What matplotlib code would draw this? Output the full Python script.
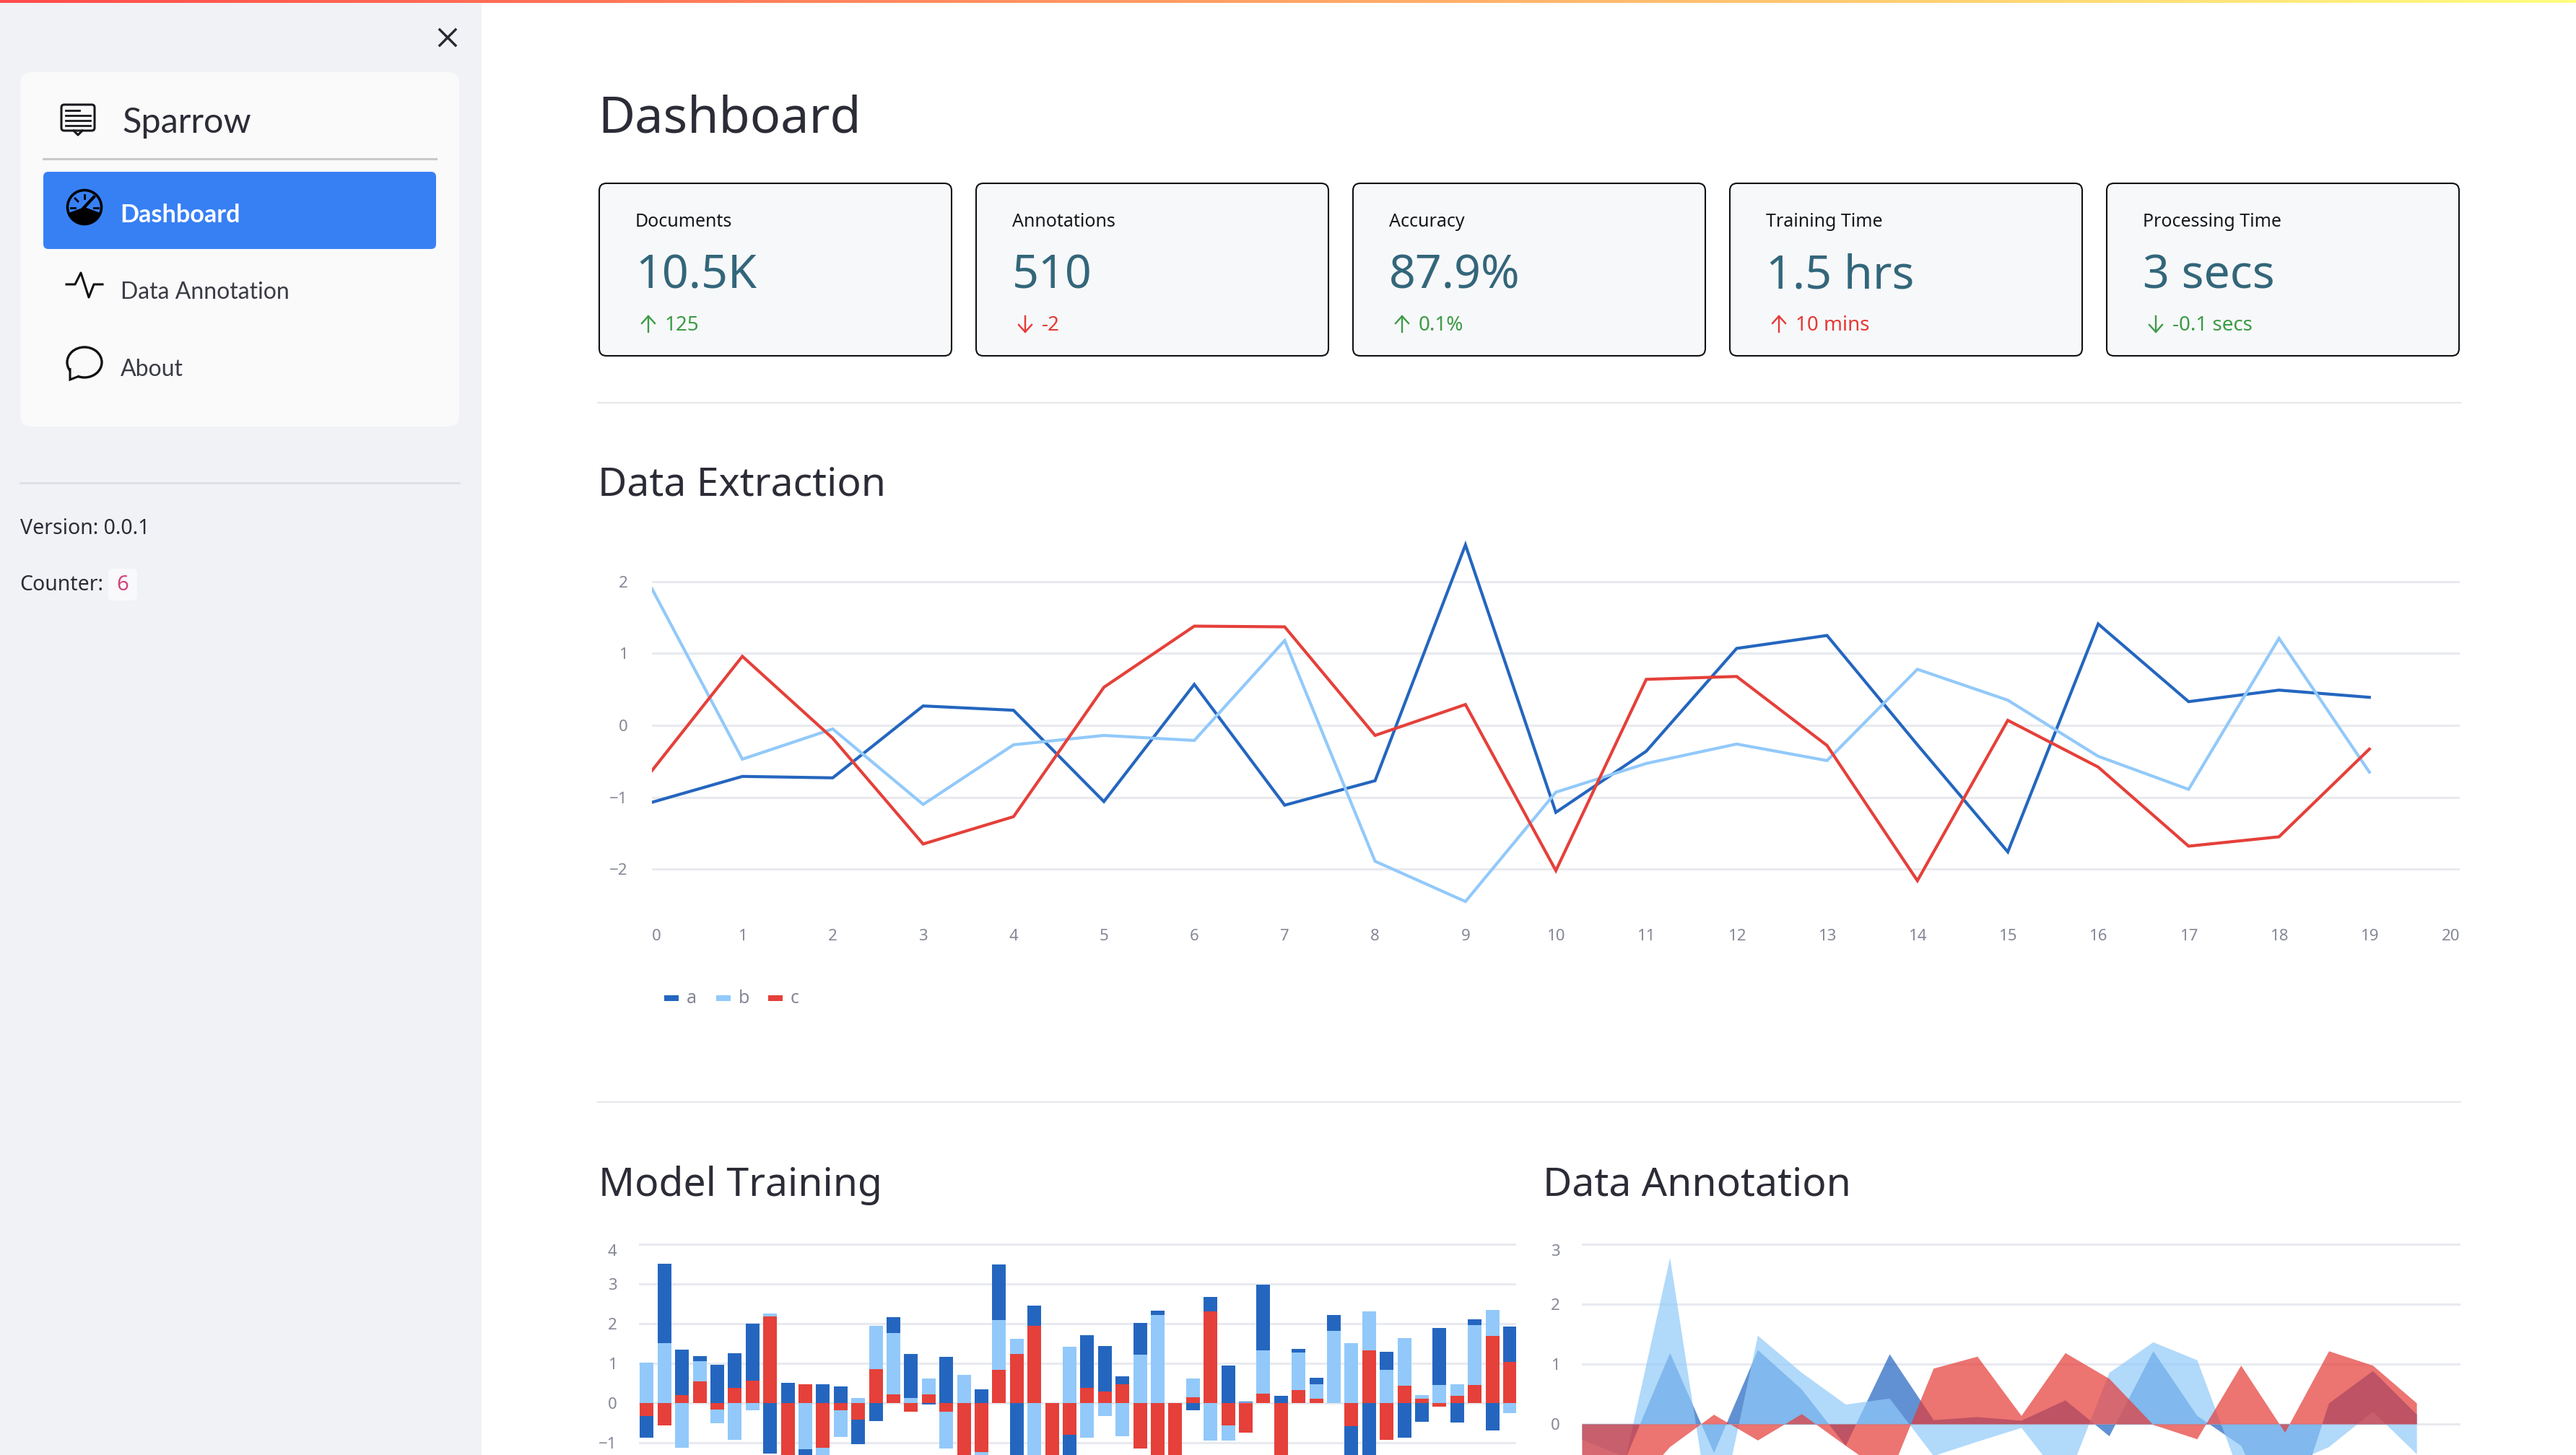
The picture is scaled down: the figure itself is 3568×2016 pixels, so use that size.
import matplotlib

matplotlib.use("Agg")

import matplotlib.pyplot as plt
import numpy as np
from matplotlib.patches import Circle, Ellipse, FancyBboxPatch, Polygon, Rectangle, Wedge

plt.rcParams["font.family"] = ["Noto Sans", "DejaVu Sans"]

W, H = 3568, 2016

BLUE = "#2466bf"
LIGHT = "#92c9fa"
RED = "#e5403a"
INK = "#2b2c36"
TICK = "#848795"
GRID = "#e8eaef"
UP = "#3d9b45"
DOWN = "#e53935"

# line chart
line_a = [-1.07, -0.71, -0.73, 0.27, 0.21, -1.06, 0.57, -1.11, -0.77, 2.51,
          -1.21, -0.36, 1.07, 1.25, -0.27, -1.76, 1.41, 0.33, 0.49, 0.39]
line_b = [1.90, -0.47, -0.05, -1.10, -0.27, -0.14, -0.21, 1.18, -1.89, -2.45,
          -0.93, -0.53, -0.26, -0.49, 0.78, 0.35, -0.43, -0.89, 1.21, -0.65]
line_c = [-0.63, 0.96, -0.18, -1.65, -1.27, 0.53, 1.38, 1.37, -0.14, 0.29,
          -2.02, 0.64, 0.68, -0.28, -2.16, 0.07, -0.58, -1.68, -1.55, -0.33]

# stacked bars, values under the crop of the page are estimates
bar_a = [-0.54, 2.00, 1.15, 0.12, 0.96, 0.87, 1.42, -1.28, 0.50, -0.50,
         0.47, 0.41, -0.62, -0.45, 0.39, 1.11, -0.04, 1.17, -0.30, 0.35,
         1.40, -1.60, 0.52, -0.40, -0.80, 1.32, 1.14, 0.20, 0.81, 0.12,
         -0.30, -0.19, 0.36, 0.95, 0.03, 1.65, 0.18, 0.10, 0.16, 0.41,
         -0.80, -1.40, 0.44, -0.88, -0.47, 1.43, -0.50, 0.14, -0.70, 0.89]
bar_b = [1.02, 1.50, -1.13, 0.52, -0.35, -0.93, -0.18, 0.07, -0.30, -1.17,
         -0.40, -0.67, 0.13, 1.10, 1.56, 0.12, 0.40, -0.94, 0.70, -0.30,
         1.25, 0.38, -1.50, -0.30, 1.42, -0.88, -0.32, -0.84, 1.21, 2.21,
         -0.30, 0.46, -0.95, -0.39, 0.01, 1.09, -0.30, 0.95, 0.38, 1.81,
         1.51, 0.99, 0.84, 1.20, 0.08, 0.45, 0.30, 1.51, 0.67, -0.25]
bar_c = [-0.33, -0.57, 0.19, 0.54, -0.16, 0.38, 0.57, 2.18, -1.60, 0.47,
         -1.13, -0.19, -0.41, 0.85, 0.21, -0.22, 0.22, -0.21, -1.60, -1.24,
         0.84, 1.23, 1.94, -1.50, -0.80, 0.38, 0.29, 0.48, -1.15, -1.50,
         -1.50, 0.15, 2.31, -0.56, -0.75, 0.24, -1.50, 0.32, 0.10, -0.01,
         -0.59, 1.32, -0.92, 0.44, 0.11, -0.10, 0.18, 0.45, 1.68, 1.04]

# area chart
area_a = [-0.26, -0.55, 1.19, -0.48, 1.24, 0.58, -0.36, 1.17, 0.07, 0.12,
          0.06, 0.40, -0.20, 1.22, 0.14, -0.36, -1.90, 0.35, 0.89, 0.16]
area_b = [-0.80, -0.53, 2.78, -1.94, 1.48, 0.86, 0.33, 0.43, -0.53, -0.29,
          -0.06, -1.00, 0.86, 1.37, 1.07, -0.90, -0.70, -0.38, 0.21, -0.50]
area_c = [-1.20, -1.20, -0.38, 0.16, -0.27, 0.17, -0.36, -0.87, 0.93, 1.13,
          0.14, 1.19, 0.76, -0.01, -0.25, 0.98, -0.14, 1.22, 0.98, 0.35]

# metric cards
card_labels = ["Documents", "Annotations", "Accuracy", "Training Time", "Processing Time"]
card_values = ["10.5K", "510", "87.9%", "1.5 hrs", "3 secs"]
card_deltas = ["125", "-2", "0.1%", "10 mins", "-0.1 secs"]
card_arrows = ["up", "down", "up", "up", "down"]
card_colors = [UP, DOWN, UP, DOWN, UP]

legend_names = ["a", "b", "c"]
legend_colors = [BLUE, LIGHT, RED]


def px_axes(fig, left, top, right, bottom):
    ax = fig.add_axes([left / W, 1 - bottom / H, (right - left) / W, (bottom - top) / H])
    ax.set_facecolor("none")
    for spine in ax.spines.values():
        spine.set_visible(False)
    ax.set_axisbelow(True)
    ax.grid(axis="y", color=GRID, lw=2.2)
    ax.tick_params(length=0, labelcolor=TICK, labelsize=16)
    return ax


def round_box(ax, x0, y0, x1, y1, radius, face, edge="none", lw=0, z=2):
    ax.add_patch(FancyBboxPatch((x0, y0), x1 - x0, y1 - y0,
                                boxstyle=f"round,pad=0,rounding_size={radius}",
                                fc=face, ec=edge, lw=lw, zorder=z))


def stack_bars(ax, x, series, colors, width):
    pos = np.zeros(len(x))
    neg = np.zeros(len(x))
    for values, color in zip(series, colors):
        values = np.array(values)
        bottom = np.where(values >= 0, pos, neg)
        ax.bar(x, values, width, bottom=bottom, color=color, lw=0)
        pos += np.clip(values, 0, None)
        neg += np.clip(values, None, 0)


def draw_arrow(ax, x, y, direction, color):
    sign = -1 if direction == "up" else 1
    ax.plot([x, x], [y - 11, y + 11], color=color, lw=1.7)
    tip = y + 11 * sign
    ax.plot([x - 9, x, x + 9], [tip - 10 * sign, tip, tip - 10 * sign], color=color, lw=1.7)


def draw_page(ax):
    ax.set_axis_off()
    gradient = np.linspace(0, 1, 256).reshape(1, -1, 1)
    start = np.array([255, 75, 75]) / 255
    stop = np.array([255, 253, 128]) / 255
    ax.imshow(start + gradient * (stop - start), extent=(0, W, 4, 0), aspect="auto", zorder=5)
    ax.set_xlim(0, W)
    ax.set_ylim(H, 0)

    ax.add_patch(Rectangle((0, 0), 667, H, fc="#f0f2f6", lw=0, zorder=1))
    ax.plot([609, 631], [41, 63], color="#26272f", lw=2.4, zorder=3)
    ax.plot([609, 631], [63, 41], color="#26272f", lw=2.4, zorder=3)

    round_box(ax, 28, 100, 636, 591, 16, "#fafafa")
    ax.plot([60, 604], [220, 220], color="#c9c9cc", lw=2.2, zorder=3)
    round_box(ax, 60, 238, 604, 345, 7, "#3780f4", z=3)

    # sparrow icon
    round_box(ax, 85, 145, 131, 181, 4, "none", "#17181c", 2.2, z=4)
    ax.plot([102, 108, 114], [181, 187, 181], color="#17181c", lw=2.2, zorder=4)
    for y, x1 in [(153, 110), (160, 125), (167, 125), (174, 125)]:
        ax.plot([91, x1], [y, y], color="#17181c", lw=2, zorder=4)
    ax.text(169, 170, "Sparrow", fontsize=35, family="Lato", color=INK, va="center", zorder=4)

    # dashboard icon
    ax.add_patch(Circle((117, 287), 23.5, fc="none", ec="black", lw=2.6, zorder=4))
    ax.add_patch(Wedge((117, 287), 24, 20, 160, fc="black", lw=0, zorder=4))
    ax.plot([115, 130], [289, 273], color="black", lw=3, zorder=4)
    for x0, y0, x1, y1 in [(117, 270, 117, 275), (104, 275, 108, 279), (98, 288, 104, 288), (130, 288, 136, 288)]:
        ax.plot([x0, x1], [y0, y1], color="black", lw=2, zorder=4)
    ax.text(166, 298, "Dashboard", fontsize=24.7, family="Lato", weight="bold", color="white", va="center", zorder=4)

    # pulse icon
    ax.plot([92, 104, 112, 123, 130, 142], [394, 394, 378, 412, 394, 394], color="#111111", lw=2.2, zorder=4)
    ax.text(167, 405, "Data Annotation", fontsize=23, family="Lato", color="#3a3b44", va="center", zorder=4)

    # about icon
    ax.add_patch(Ellipse((117, 502), 48, 42, fc="none", ec="#111111", lw=2.4, zorder=4))
    ax.add_patch(Polygon([[97, 510], [97, 526], [110, 521]], closed=False, fc="#fafafa", ec="#111111", lw=2.2, zorder=4))
    ax.text(167, 512, "About", fontsize=23, family="Lato", color="#3a3b44", va="center", zorder=4)

    ax.plot([28, 636], [669, 669], color="#dcdee3", lw=1.8, zorder=3)
    ax.text(28, 732, "Version: 0.0.1", fontsize=20.5, color=INK, va="center", zorder=4)
    ax.text(27, 811, "Counter:", fontsize=20.5, color=INK, va="center", zorder=4)
    round_box(ax, 150, 788, 190, 832, 6, "#f9f9fb", z=3)
    ax.text(170, 811, "6", fontsize=21, color="#d0447e", ha="center", va="center", zorder=4)

    ax.text(828, 166, "Dashboard", fontsize=50.5, color=INK, va="center")

    for i, label in enumerate(card_labels):
        left = 830 + 522 * i
        round_box(ax, left, 254, left + 488, 493, 10, "#f7f8fa", "#101114", 1.5)
        ax.text(left + 50, 308, label, fontsize=18, color="#17181c", va="center", zorder=4)
        ax.text(left + 50, 383, card_values[i], fontsize=46.5, color="#33667a", va="center", zorder=4)
        draw_arrow(ax, left + 68, 449, card_arrows[i], card_colors[i])
        ax.text(left + 91, 451, card_deltas[i], fontsize=20, color=card_colors[i], va="center", zorder=4)

    for y in (558, 1527):
        ax.plot([828, 3408], [y, y], color="#e6e8ec", lw=1.6, zorder=3)

    ax.text(828, 672, "Data Extraction", fontsize=39.8, color=INK, va="center")
    ax.text(829, 1642, "Model Training", fontsize=39.8, color=INK, va="center")
    ax.text(2137, 1642, "Data Annotation", fontsize=39.8, color=INK, va="center")

    for name, color, x0, xt in zip(legend_names, legend_colors, (920, 992, 1064), (951, 1023, 1095)):
        ax.add_patch(Rectangle((x0, 1379), 20, 8, fc=color, lw=0, zorder=4))
        ax.text(xt, 1383, name, fontsize=18, color=TICK, va="center", zorder=4)


fig = plt.figure(figsize=(W / 100, H / 100), dpi=100, facecolor="white")

page = fig.add_axes([0, 0, 1, 1])
draw_page(page)

# Data Extraction
ax_line = px_axes(fig, 903, 746, 3407, 1279)
x_line = np.arange(20)
for values, color in zip((line_a, line_b, line_c), legend_colors):
    ax_line.plot(x_line, values, color=color, lw=3.0, solid_joinstyle="miter")
ax_line.set_xlim(0, 20)
ax_line.set_ylim(-2.75, 2.6)
ax_line.set_yticks([-2, -1, 0, 1, 2], ["−2", "−1", "0", "1", "2"])
ax_line.set_xticks(range(21), [str(i) for i in range(21)])
ax_line.tick_params(axis="y", pad=24)
ax_line.tick_params(axis="x", pad=6)
ax_line.get_xticklabels()[0].set_ha("left")
ax_line.get_xticklabels()[-1].set_ha("right")

# Model Training
ax_bar = px_axes(fig, 885, 1721, 2100, 2016)
stack_bars(ax_bar, np.arange(50), (bar_c, bar_b, bar_a), (RED, LIGHT, BLUE), 0.78)
ax_bar.set_xlim(-0.45, 49.35)
ax_bar.set_ylim(-1.309, 4.05)
ax_bar.set_yticks([-1, 0, 1, 2, 3, 4], ["−1", "0", "1", "2", "3", "4"])
ax_bar.set_xticks([])
ax_bar.tick_params(axis="y", pad=22)
ax_bar.get_yticklabels()[-1].set_va("top")

# Data Annotation
ax_area = px_axes(fig, 2191, 1720, 3408, 2016)
x_area = np.arange(20)
for values, color in zip((area_a, area_b, area_c), ("#1e62bf", "#90caf9", "#e53935")):
    ax_area.fill_between(x_area, values, 0, color=color, alpha=0.7, lw=0)
ax_area.set_xlim(0, 20)
ax_area.set_ylim(-0.519, 3.05)
ax_area.set_yticks([0, 1, 2, 3], ["0", "1", "2", "3"])
ax_area.set_xticks([])
ax_area.tick_params(axis="y", pad=22)
ax_area.get_yticklabels()[-1].set_va("top")

fig.savefig("out.png", dpi=100)
plt.close(fig)
